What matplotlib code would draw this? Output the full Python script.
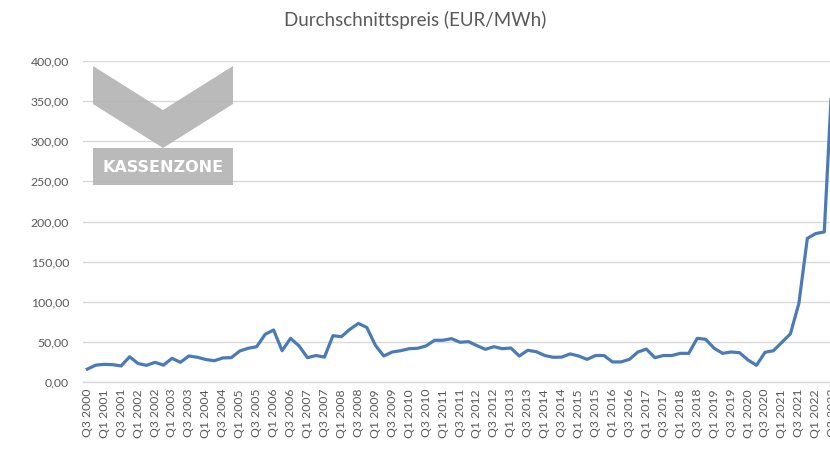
import matplotlib
matplotlib.use('Agg')
from matplotlib import pyplot as plt
from matplotlib.patches import Polygon, Rectangle

# Data (EUR/MWh per quarter)
START_YEAR = 2000
START_QUARTER = 3
PRICES = [16, 21,
          22, 21.6, 20, 31.5,
          23, 20.8, 24.5, 21,
          29.5, 24.5, 32.4, 30.8,
          28, 26.5, 30, 30.3,
          38.6, 42, 44, 59.4,
          64.8, 39, 54.4, 45,
          30.3, 33, 31, 57.7,
          56.5, 65.6, 73, 68,
          46, 32.4, 37.4, 39,
          41.5, 42, 45, 52,
          52, 54, 49.5, 50.3,
          45.3, 40.7, 44, 41.5,
          42.4, 32.4, 39.5, 37.8,
          33, 30.8, 31, 35,
          32.4, 28.2, 33, 33,
          25, 25, 28.2, 37.4,
          41, 30.3, 33, 33,
          35.7, 35.7, 54.4, 53.2,
          42, 35.7, 37.4, 36.5,
          27.4, 20.8, 37, 39,
          49.5, 60, 98, 179,
          185, 187, 395]
Y_TICKS = [0, 50, 100, 150, 200, 250, 300, 350, 400]
TITLE = 'Durchschnittspreis (EUR/MWh)'
LOGO_TEXT = 'KASSENZONE'

TEXT_GREY = '#595959'
GRID_GREY = '#d9d9d9'
LINE_BLUE = '#4a7bb7'
LOGO_GREY = '#b3b3b3'


def quarter_labels(start_year, start_quarter, count):
    labels = []
    year, q = start_year, start_quarter
    for i in range(count):
        labels.append('Q%d %d' % (q, year))
        q += 1
        if q > 4:
            q = 1
            year += 1
    return labels


labels = quarter_labels(START_YEAR, START_QUARTER, len(PRICES))
x = list(range(len(PRICES)))

plt.rcParams['font.family'] = ['Lato', 'DejaVu Sans']

fig = plt.figure(figsize=(8.3, 4.67), dpi=100)
# axes runs a little past the right edge, like the cropped screenshot
ax = fig.add_axes([83 / 830, 85 / 467, 754 / 830, 321 / 467])

ax.plot(x, PRICES, color=LINE_BLUE, linewidth=2.3, solid_joinstyle='round',
        zorder=3)

ax.set_xlim(-0.5, len(PRICES) - 0.5)
ax.set_ylim(0, 400)
ax.set_yticks(Y_TICKS)
ax.set_yticklabels([('%.2f' % v).replace('.', ',') for v in Y_TICKS])
ax.set_xticks(x[::2])
ax.set_xticklabels(labels[::2], rotation=90)

ax.tick_params(axis='both', length=0, colors=TEXT_GREY, labelsize=8.8)
ax.tick_params(axis='y', pad=10)
ax.tick_params(axis='x', pad=5)

ax.grid(axis='y', color=GRID_GREY, linewidth=1)
ax.set_axisbelow(True)
for side in ['left', 'right', 'top']:
    ax.spines[side].set_visible(False)
ax.spines['bottom'].set_color(GRID_GREY)
ax.spines['bottom'].set_linewidth(1)
ax.spines['bottom'].set_zorder(1)

fig.text(0.5, 1 - 20 / 467, TITLE, ha='center', va='center',
         fontsize=13.5, color=TEXT_GREY)


# Kassenzone watermark, in pixel coords of the figure
def px(xp, yp):
    return (xp / 830, 1 - yp / 467)


chevron = Polygon([px(93, 66), px(163, 110), px(233, 66), px(233, 104),
                   px(163, 148), px(93, 104)],
                  closed=True, transform=fig.transFigure,
                  facecolor=LOGO_GREY, edgecolor='none', alpha=0.9, zorder=5)
box = Rectangle(px(93, 185), 140 / 830, 37 / 467, transform=fig.transFigure,
                facecolor=LOGO_GREY, edgecolor='none', alpha=0.9, zorder=5)
fig.patches.append(chevron)
fig.patches.append(box)
fig.text(163 / 830, 1 - 167 / 467, LOGO_TEXT, ha='center', va='center',
         fontsize=11.5, fontweight='bold', color='white',
         family='DejaVu Sans', zorder=6)

fig.savefig('out.png', dpi=100)
